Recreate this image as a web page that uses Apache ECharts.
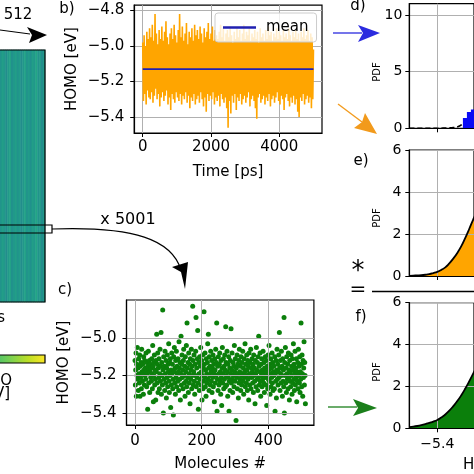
<!DOCTYPE html>
<html><head><meta charset="utf-8">
<script src="https://cdn.jsdelivr.net/npm/echarts@6/dist/echarts.min.js"></script>
<style>html,body{margin:0;padding:0;background:#fff}#c{width:474px;height:474px}</style>
</head><body><div id="c"></div>
<script>
// ---------- data ----------
const timeStart = 0, timeStep = 20;
const homoTime = [
-4.98,-5.31,-4.94,-5.27,-5.00,-5.33,-4.92,-5.25,-4.96,-5.29,
-4.90,-5.30,-4.95,-5.26,-4.88,-5.32,-4.97,-5.28,-4.82,-5.24,
-4.93,-5.30,-4.99,-5.27,-4.91,-5.34,-4.96,-5.29,-4.89,-5.26,
-4.97,-5.31,-4.92,-5.28,-4.86,-5.25,-4.95,-5.33,-4.99,-5.29,
-4.93,-5.36,-4.90,-5.27,-4.96,-5.30,-4.88,-5.32,-4.94,-5.26,
-4.98,-5.29,-4.91,-5.31,-4.82,-5.27,-4.95,-5.33,-4.89,-5.28,
-4.97,-5.30,-4.93,-5.26,-4.87,-5.32,-4.99,-5.28,-4.92,-5.35,
-4.95,-5.29,-4.90,-5.31,-4.97,-5.27,-4.88,-5.33,-4.94,-5.30,
-4.91,-5.28,-4.96,-5.32,-4.89,-5.26,-4.93,-5.30,-4.98,-5.34,
-4.90,-5.29,-4.95,-5.37,-4.92,-5.27,-4.87,-5.31,-4.96,-5.28,
-4.93,-5.30,-4.89,-5.26,-4.97,-5.33,-4.91,-5.29,-4.94,-5.31,
-4.96,-5.28,-4.92,-5.34,-4.88,-5.27,-4.95,-5.30,-4.90,-5.32,
-4.97,-5.29,-4.93,-5.35,-4.91,-5.46,-4.95,-5.31,-4.89,-5.38,
-4.94,-5.28,-4.98,-5.32,-4.92,-5.27,-4.96,-5.36,-4.90,-5.29,
-4.95,-5.31,-4.91,-5.27,-4.97,-5.33,-4.93,-5.30,-4.88,-5.28,
-4.96,-5.32,-4.92,-5.29,-4.94,-5.26,-4.90,-5.34,-4.97,-5.30,
-4.93,-5.28,-4.95,-5.31,-4.91,-5.35,-4.96,-5.41,-4.92,-5.29,
-4.98,-5.27,-4.90,-5.32,-4.95,-5.30,-4.93,-5.28,-4.97,-5.33,
-4.91,-5.29,-4.96,-5.31,-4.89,-5.27,-4.94,-5.34,-4.92,-5.30,
-4.97,-5.28,-4.93,-5.32,-4.95,-5.29,-4.90,-5.26,-4.96,-5.31,
-4.92,-5.33,-4.94,-5.28,-4.97,-5.30,-4.91,-5.36,-4.95,-5.29,
-4.93,-5.27,-4.96,-5.31,-4.90,-5.34,-4.94,-5.29,-4.97,-5.32,
-4.92,-5.28,-4.95,-5.33,-4.91,-5.30,-4.96,-5.37,-4.93,-5.40,
-4.97,-5.29,-4.92,-5.31,-4.95,-5.27,-4.90,-5.33,-4.96,-5.30,
-4.94,-5.28,-4.91,-5.32,-4.97,-5.29,-4.93,-5.35,-4.95,-5.30,-5.02
];
const homoMean = -5.13;
const homoMolecules = [
-5.12,-5.25,-5.17,-5.08,-5.31,-5.14,-5.20,-5.05,-5.22,-5.16,-5.28,-5.11,-5.19,-5.24,-5.09,-5.31,
-5.15,-5.21,-5.13,-5.27,-5.06,-5.18,-5.23,-5.14,-5.19,-5.30,-5.10,-5.17,-5.25,-5.12,-5.20,-5.16,
-5.22,-5.08,-5.18,-5.26,-5.13,-5.19,-5.38,-5.15,-5.07,-5.24,-5.17,-5.12,-5.29,-5.18,-5.14,-5.21,
-5.16,-5.23,-5.11,-5.19,-5.27,-5.04,-5.15,-5.34,-5.20,-5.13,-5.09,-5.25,-5.17,-5.22,-5.33,-5.12,
-5.18,-4.98,-5.24,-5.14,-5.08,-5.29,-5.16,-5.21,-5.11,-5.27,-5.19,-5.06,-5.23,-5.15,-4.97,-5.30,
-5.13,-5.20,-5.25,-4.85,-5.17,-5.40,-5.10,-5.22,-5.15,-5.28,-5.07,-5.19,-5.24,-5.12,-5.32,-5.16,
-5.21,-5.09,-5.26,-5.14,-5.18,-5.03,-5.23,-5.29,-5.13,-5.20,-5.11,-5.37,-5.17,-5.25,-5.08,-5.19,
-5.14,-5.27,-5.22,-5.41,-5.10,-5.18,-5.05,-5.24,-5.16,-5.30,-5.12,-5.21,-5.07,-5.26,-5.15,-5.19,
-5.23,-5.11,-5.18,-5.28,-5.02,-5.16,-5.22,-5.13,-5.33,-5.19,-4.99,-5.25,-5.14,-5.09,-5.21,-5.17,
-5.27,-5.12,-5.06,-5.20,-5.24,-5.15,-5.31,-5.10,-5.18,-5.23,-5.04,-5.26,-4.92,-5.16,-5.21,-5.13,
-5.29,-5.08,-5.19,-5.24,-5.14,-5.35,-5.11,-5.22,-5.17,-5.06,-5.27,-5.15,-5.20,-4.83,-5.12,-5.25,
-5.18,-5.09,-5.23,-5.30,-5.14,-5.20,-5.07,-4.89,-5.26,-5.16,-5.21,-5.11,-4.96,-5.24,-5.38,-5.13,
-5.19,-5.28,-5.10,-5.22,-5.15,-5.05,-5.25,-5.18,-5.12,-5.33,-5.20,-5.09,-5.27,-5.16,-5.23,-4.86,
-5.14,-5.21,-5.08,-5.26,-5.17,-5.31,-5.11,-5.19,-5.24,-5.13,-5.03,-5.22,-4.98,-5.16,-5.28,-5.10,
-5.20,-5.15,-5.25,-5.07,-5.18,-5.23,-5.12,-5.29,-5.16,-5.21,-5.09,-5.26,-5.14,-5.19,-5.34,-5.11,
-5.17,-5.24,-5.06,-5.20,-5.13,-4.92,-5.39,-5.22,-5.15,-5.28,-5.10,-5.19,-5.25,-5.14,-5.08,-5.23,
-5.18,-5.30,-5.12,-5.21,-5.36,-5.16,-5.05,-5.24,-5.19,-5.11,-5.27,-5.15,-5.22,-5.09,-5.17,-5.26,
-4.94,-5.13,-5.20,-5.25,-5.07,-5.18,-5.31,-5.14,-5.21,-5.10,-5.39,-5.23,-5.16,-5.28,-5.12,-5.19,
-4.95,-5.24,-5.17,-5.08,-5.22,-5.29,-5.13,-5.20,-5.15,-5.26,-5.04,-5.18,-5.23,-5.11,-5.19,-5.44,
-5.16,-5.21,-5.09,-5.27,-5.14,-5.19,-5.32,-5.12,-5.24,-5.06,-5.18,-5.22,-5.15,-5.28,-5.10,-5.20,
-5.25,-5.13,-5.19,-5.07,-5.23,-5.16,-5.30,-5.11,-5.21,-5.18,-5.03,-5.26,-5.14,-5.20,-5.24,-5.09,
-5.17,-5.28,-5.12,-5.22,-5.15,-5.33,-5.08,-5.19,-5.25,-5.13,-5.20,-5.06,-5.27,-5.16,-5.21,-5.11,
-5.18,-5.24,-5.14,-5.29,-5.09,-5.20,-5.16,-5.23,-5.35,-5.12,-5.19,-5.26,-5.05,-5.17,-5.22,-5.13,
-5.28,-5.10,-5.21,-4.99,-5.15,-5.25,-5.18,-5.08,-5.23,-5.31,-5.14,-5.20,-5.11,-5.26,-5.17,-5.22,
-5.07,-5.19,-5.24,-5.13,-5.29,-5.16,-5.21,-5.10,-5.18,-5.25,-5.12,-5.36,-5.20,-5.15,-5.27,-5.09,
-5.22,-5.17,-5.04,-5.23,-5.14,-5.30,-5.19,-5.11,-5.26,-5.16,-5.21,-5.08,-5.24,-5.13,-5.28,-5.18,
-5.15,-5.20,-5.27,-5.10,-5.39,-5.19,-5.23,-5.12,-5.32,-5.17,-5.06,-5.22,-5.14,-5.25,-5.18,-5.09,
-5.21,-4.97,-5.16,-5.28,-5.12,-5.19,-5.24,-5.07,-5.20,-5.15,-5.31,-5.11,-5.23,-5.17,-5.26,-4.89,
-5.40,-5.13,-5.20,-5.05,-5.24,-5.16,-5.29,-5.10,-5.19,-5.22,-5.14,-5.27,-5.08,-5.21,-5.17,-5.33,
-5.12,-5.23,-5.18,-5.26,-5.09,-5.20,-5.15,-5.30,-5.11,-5.24,-5.17,-5.03,-5.22,-5.14,-5.28,-5.19,
-5.07,-5.25,-5.16,-5.21,-5.11,-5.34,-5.18,-5.23,-5.13,-5.27,-5.06,-5.20,-5.15,-5.24,-5.10,-5.29,
-5.18,-5.22,-4.92,-5.14,-5.26,-5.09,-5.19,-5.31,-5.12,-5.21,-5.16,-5.02,-5.25,-5.13,-5.20,-5.35
];
const heatCols = [-5.14,-5.11,-5.13,-5.16,-5.12,-5.10,-5.15,-5.13,-5.11,-5.14,-5.12,-5.16,
                  -5.13,-5.10,-5.14,-5.12,-5.15,-5.11,-5.13,-5.09,-5.14,-5.12,-5.16,-5.13];
const pdfX = [-5.54,-5.52,-5.50,-5.48,-5.46,-5.44,-5.42,-5.40,-5.38,-5.36,-5.34,-5.32,-5.30,-5.28,-5.26,-5.24,-5.22,-5.20,-5.18];
const pdfD = [0,0,0,0,0,0,0,0,0.01,0.02,0.03,0.06,0.12,0.30,0.65,1.05,1.50,2.00,2.60];
const pdfE = [0.01,0.02,0.03,0.04,0.06,0.09,0.14,0.20,0.29,0.41,0.60,0.83,1.10,1.42,1.82,2.25,2.70,3.10,3.45];
const pdfF = [0.06,0.08,0.11,0.15,0.20,0.26,0.32,0.40,0.52,0.66,0.84,1.06,1.30,1.58,1.90,2.25,2.62,3.00,3.35];
const histEdges = [-5.272,-5.252,-5.232,-5.212];
const histHeights = [0.9,1.45,1.65,1.65];
const timeTicks = [0,2000,4000];
const homoTicksB = [-5.4,-5.2,-5.0,-4.8];
const moleculeTicks = [0,200,400];
const homoTicksC = [-5.4,-5.2,-5.0];
const pdfTicksD = [0,5,10];
const pdfTicksEF = [0,2,4,6];
const homoTicksPdf = [-5.4];

// ---------- helpers ----------
const FONT = 'DejaVu Sans';
const minus = d => v => v.toFixed(d).replace('-', '\u2212');
function axis(o) {
  const a = {
    type: 'value', gridIndex: o.grid, min: o.min, max: o.max, z: o.z || 0,
    axisLine: {show: true, onZero: false, lineStyle: {color: '#000', width: 1.2}},
    axisTick: {show: true, inside: false, length: 4, customValues: o.ticks, lineStyle: {color: '#000', width: 1}},
    axisLabel: {show: o.labels !== false, customValues: o.ticks, color: '#000', fontSize: o.fs || 15,
                fontFamily: FONT, margin: o.margin || 7, formatter: o.fmt},
    splitLine: {show: true, lineStyle: {color: '#b0b0b0', width: 1}}
  };
  if (o.name) {
    a.name = o.name; a.nameLocation = 'middle'; a.nameGap = o.nameGap;
    a.nameTextStyle = {color: '#000', fontSize: 15, fontFamily: FONT};
  }
  return a;
}
const viridis = ['#440154','#482475','#414487','#355f8d','#2a788e','#21918c','#22a884','#44bf70','#7ad151','#bddf26','#fde725'];

const chart = echarts.init(document.getElementById('c'), null, {renderer: 'canvas'});
const gridBox = {show: true, borderColor: '#000', borderWidth: 1.2, backgroundColor: 'transparent'};
// right-hand PDF panels are cut by the picture edge: 200 px per eV, visible part only
const pdfMin = -5.54, pdfMax = -5.54 + (474 - 409.3) / 200;

const option = {
  animation: false,
  textStyle: {fontFamily: FONT},
  grid: [
    {left: -30, top: 50, width: 75, height: 252},
    Object.assign({left: 134.2, top: 5.2, width: 187.8, height: 127.8}, gridBox),
    Object.assign({left: 126.5, top: 300, width: 187.4, height: 125}, gridBox),
    Object.assign({left: 409.3, top: 3.7, right: 0, height: 124.6}, gridBox),
    Object.assign({left: 409.3, top: 150, right: 0, height: 126}, gridBox),
    Object.assign({left: 409.3, top: 302.7, right: 0, height: 125.6}, gridBox)
  ],
  xAxis: [
    {type: 'category', gridIndex: 0, show: false, data: heatCols.map((v, i) => i)},
    axis({grid: 1, min: -250, max: 5250, ticks: timeTicks, fmt: minus(0), name: 'Time [ps]', nameGap: 32}),
    axis({grid: 2, min: -25.55, max: 536.55, ticks: moleculeTicks, fmt: minus(0), name: 'Molecules #', nameGap: 32, z: 3, margin: 9}),
    axis({grid: 3, min: pdfMin, max: pdfMax, ticks: homoTicksPdf, labels: false, z: 3}),
    axis({grid: 4, min: pdfMin, max: pdfMax, ticks: homoTicksPdf, labels: false, z: 3}),
    axis({grid: 5, min: pdfMin, max: pdfMax, ticks: homoTicksPdf, fmt: minus(1), fs: 14, margin: 9, z: 3})
  ],
  yAxis: [
    {type: 'category', gridIndex: 0, show: false, data: ['']},
    axis({grid: 1, min: -5.49, max: -4.77, ticks: homoTicksB, fmt: minus(1), name: 'HOMO [eV]', nameGap: 55, margin: 10}),
    axis({grid: 2, min: -5.464, max: -4.797, ticks: homoTicksC, fmt: minus(1), name: 'HOMO [eV]', nameGap: 55, margin: 10, z: 3}),
    axis({grid: 3, min: 0, max: 11, ticks: pdfTicksD, fmt: minus(0), fs: 14, margin: 7, z: 3}),
    axis({grid: 4, min: 0, max: 6, ticks: pdfTicksEF, fmt: minus(0), fs: 14, margin: 8, z: 3}),
    axis({grid: 5, min: 0, max: 6, ticks: pdfTicksEF, fmt: minus(0), fs: 14, margin: 8, z: 3})
  ],
  visualMap: [{show: false, type: 'continuous', seriesIndex: 0, dimension: 2, min: -5.5, max: -4.8, inRange: {color: viridis}}],
  legend: {
    data: ['mean'], left: 215, top: 13, icon: 'rect', itemWidth: 33, itemHeight: 2.5,
    padding: [7, 8, 7, 8], backgroundColor: 'rgba(255,255,255,0.8)', borderColor: '#cccccc',
    borderWidth: 1, borderRadius: 3,
    textStyle: {fontSize: 15, color: '#000', fontFamily: FONT, padding: [0, 0, 0, 5]}
  },
  series: [
    {type: 'heatmap', xAxisIndex: 0, yAxisIndex: 0, data: heatCols.map((v, i) => [i, 0, v])},
    {type: 'line', name: 'time', xAxisIndex: 1, yAxisIndex: 1, showSymbol: false, symbol: 'none',
     data: homoTime.map((v, i) => [timeStart + i * timeStep, v]),
     lineStyle: {color: '#ffa500', width: 1.6}, itemStyle: {color: '#ffa500'}, z: 2},
    {type: 'line', name: 'mean', xAxisIndex: 1, yAxisIndex: 1, symbol: 'none',
     data: [[timeStart, homoMean], [timeStart + (homoTime.length - 1) * timeStep, homoMean]],
     lineStyle: {color: '#2020b0', width: 1.8}, itemStyle: {color: '#2020b0'}, z: 3},
    {type: 'scatter', xAxisIndex: 2, yAxisIndex: 2, symbolSize: 5,
     data: homoMolecules.map((v, i) => [i, v]), itemStyle: {color: '#0b7f0b', opacity: 1}, z: 2},
    {type: 'line', xAxisIndex: 3, yAxisIndex: 3, step: 'end', symbol: 'none',
     data: histEdges.map((e, i) => [e, histHeights[i]]),
     lineStyle: {width: 0}, areaStyle: {color: '#0a0af5', opacity: 1}, z: 6},
    {type: 'line', xAxisIndex: 3, yAxisIndex: 3, symbol: 'none', smooth: true,
     data: pdfX.map((x, i) => [x, pdfD[i]]), lineStyle: {color: '#000', width: 1.6, type: [5, 3]}, z: 5},
    {type: 'line', xAxisIndex: 4, yAxisIndex: 4, symbol: 'none', smooth: true,
     data: pdfX.map((x, i) => [x, pdfE[i]]), lineStyle: {width: 0}, areaStyle: {color: '#ffa500', opacity: 1}, z: 2},
    {type: 'line', xAxisIndex: 4, yAxisIndex: 4, symbol: 'none', smooth: true,
     data: pdfX.map((x, i) => [x, pdfE[i]]), lineStyle: {color: '#000', width: 1.8}, z: 5},
    {type: 'line', xAxisIndex: 5, yAxisIndex: 5, symbol: 'none', smooth: true,
     data: pdfX.map((x, i) => [x, pdfF[i]]), lineStyle: {width: 0}, areaStyle: {color: '#0b7f0b', opacity: 1}, z: 2},
    {type: 'line', xAxisIndex: 5, yAxisIndex: 5, symbol: 'none', smooth: true,
     data: pdfX.map((x, i) => [x, pdfF[i]]), lineStyle: {color: '#000', width: 1.8}, z: 5}
  ],
  graphic: [
    {type: 'rect', shape: {x: -5, y: 50, width: 50, height: 252}, style: {fill: 'none', stroke: '#000', lineWidth: 1.2}, z: 10},
    {type: 'rect', shape: {x: -5, y: 225, width: 57, height: 8}, style: {fill: 'none', stroke: '#000', lineWidth: 1.2}, z: 10},
    {type: 'rect', shape: {x: -20, y: 355, width: 65, height: 8},
     style: {fill: new echarts.graphic.LinearGradient(0, 0, 1, 0, [
       {offset: 0, color: '#28ae80'}, {offset: 0.21, color: '#44bf70'}, {offset: 0.47, color: '#7ad151'},
       {offset: 0.74, color: '#bddf26'}, {offset: 1, color: '#fde725'}]), stroke: '#000', lineWidth: 1.2}, z: 10},
    {type: 'text', x: 12, y: 381, style: {text: 'HOMO', align: 'right', verticalAlign: 'middle', fontSize: 15, fontFamily: FONT, fill: '#000'}},
    {type: 'text', x: 10, y: 394, style: {text: '[eV]', align: 'right', verticalAlign: 'middle', fontSize: 15, fontFamily: FONT, fill: '#000'}},
    {type: 'text', x: 5, y: 318, style: {text: 'Molecules', align: 'right', verticalAlign: 'middle', fontSize: 15, fontFamily: FONT, fill: '#000'}},
    {type: 'text', x: 18, y: 15, style: {text: '512', align: 'center', verticalAlign: 'middle', fontSize: 15, fontFamily: FONT, fill: '#000'}},
    {type: 'line', shape: {x1: 0, y1: 30, x2: 30, y2: 34}, style: {stroke: '#000', lineWidth: 1}},
    {type: 'polygon', shape: {points: [[27, 27], [47, 35], [29, 43], [32, 35]]}, style: {fill: '#000'}},
    {type: 'text', x: 128, y: 220, style: {text: 'x 5001', align: 'center', verticalAlign: 'middle', fontSize: 16, fontFamily: FONT, fill: '#000'}},
    {type: 'bezierCurve', shape: {x1: 52, y1: 229, cpx1: 135, cpy1: 226, cpx2: 172, cpy2: 240, x2: 181, y2: 270},
     style: {stroke: '#000', lineWidth: 1.2, fill: 'none'}},
    {type: 'polygon', shape: {points: [[172, 267], [188, 262], [185, 289], [181, 272]]}, style: {fill: '#000'}},
    {type: 'line', shape: {x1: 333, y1: 33, x2: 362, y2: 33}, style: {stroke: '#2b2bdf', lineWidth: 1.3}},
    {type: 'polygon', shape: {points: [[358, 25], [380, 33], [358, 42], [363, 33]]}, style: {fill: '#2b2bdf'}},
    {type: 'line', shape: {x1: 338, y1: 104, x2: 362, y2: 122}, style: {stroke: '#f29a1c', lineWidth: 1.3}},
    {type: 'polygon', shape: {points: [[354, 128], [377, 134], [365, 113], [362, 122]]}, style: {fill: '#f29a1c'}},
    {type: 'line', shape: {x1: 328, y1: 407, x2: 357, y2: 407}, style: {stroke: '#1b7f1b', lineWidth: 1.3}},
    {type: 'polygon', shape: {points: [[353, 399], [377, 408], [353, 416], [358, 408]]}, style: {fill: '#1b7f1b'}},
    {type: 'text', x: 358, y: 272, style: {text: '*', align: 'center', verticalAlign: 'middle', fontSize: 26, fontFamily: FONT, fill: '#000'}},
    {type: 'text', x: 358, y: 290, style: {text: '=', align: 'center', verticalAlign: 'middle', fontSize: 20, fontFamily: FONT, fill: '#000'}},
    {type: 'line', shape: {x1: 372, y1: 291.5, x2: 474, y2: 291.5}, style: {stroke: '#000', lineWidth: 1.5}},
    {type: 'text', x: 67, y: 9, style: {text: 'b)', align: 'center', verticalAlign: 'middle', fontSize: 15, fontFamily: FONT, fill: '#000'}},
    {type: 'text', x: 65, y: 290, style: {text: 'c)', align: 'center', verticalAlign: 'middle', fontSize: 15, fontFamily: FONT, fill: '#000'}},
    {type: 'text', x: 358, y: 6, style: {text: 'd)', align: 'center', verticalAlign: 'middle', fontSize: 15, fontFamily: FONT, fill: '#000'}},
    {type: 'text', x: 361, y: 161, style: {text: 'e)', align: 'center', verticalAlign: 'middle', fontSize: 15, fontFamily: FONT, fill: '#000'}},
    {type: 'text', x: 361, y: 317, style: {text: 'f)', align: 'center', verticalAlign: 'middle', fontSize: 15, fontFamily: FONT, fill: '#000'}},
    {type: 'text', x: 377, y: 72, rotation: Math.PI / 2, style: {text: 'PDF', align: 'center', verticalAlign: 'middle', fontSize: 10, fontFamily: FONT, fill: '#000'}},
    {type: 'text', x: 377, y: 218, rotation: Math.PI / 2, style: {text: 'PDF', align: 'center', verticalAlign: 'middle', fontSize: 10, fontFamily: FONT, fill: '#000'}},
    {type: 'text', x: 377, y: 372, rotation: Math.PI / 2, style: {text: 'PDF', align: 'center', verticalAlign: 'middle', fontSize: 10, fontFamily: FONT, fill: '#000'}},
    {type: 'text', x: 463, y: 465, style: {text: 'HOMO [eV]', align: 'left', verticalAlign: 'middle', fontSize: 15, fontFamily: FONT, fill: '#000'}}
  ]
};
chart.setOption(option);
</script>
</body></html>
